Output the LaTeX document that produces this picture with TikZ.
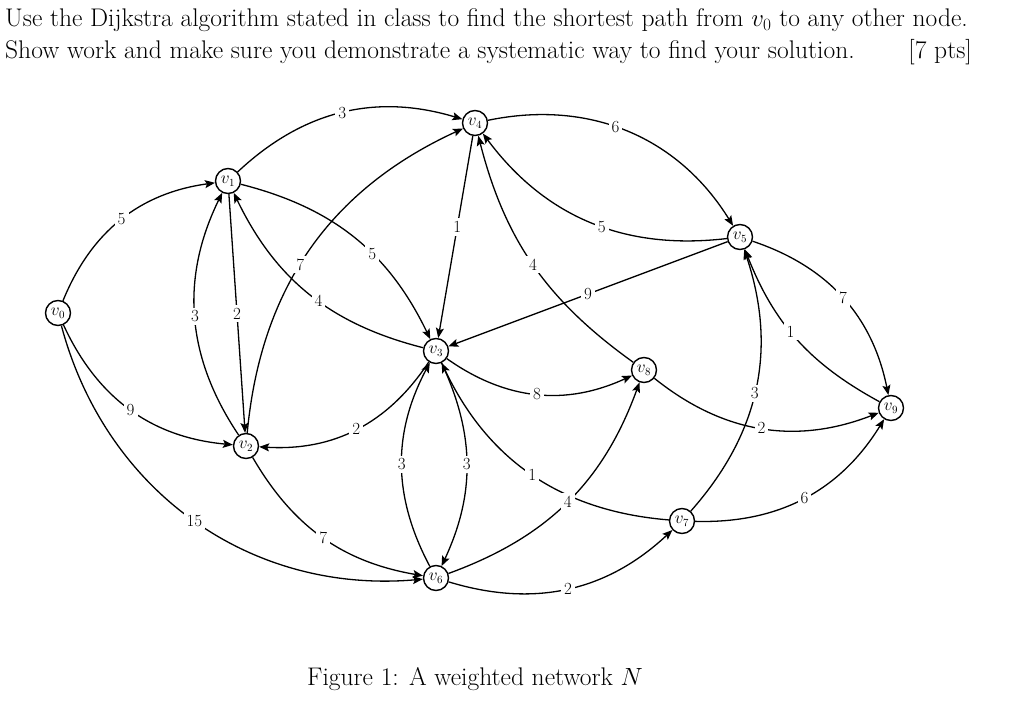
\documentclass[tikz,border=0pt]{standalone}
\usetikzlibrary{arrows.meta}
\begin{document}
\begin{tikzpicture}[x=1pt,y=1pt,
  vtx/.style={circle,draw,line width=1.4pt,inner sep=0pt,minimum size=25pt,font=\fontsize{16}{18}\selectfont},
  ed/.style={-{Stealth[length=10pt,width=8pt,inset=2pt]},line width=1.3pt},
  wt/.style={fill=white,inner sep=3pt,font=\fontsize{17}{19}\selectfont},
  big/.style={font=\fontsize{25.5}{30}\selectfont,inner sep=0pt}]
\useasboundingbox (0,0) rectangle (1024,713);
\node[big,anchor=base west] (t1) at (5,686) {Use the Dijkstra algorithm stated in class to find the shortest path from $v_0$ to any other node.};
\node[big,anchor=base west] (t2) at (5,654) {Show work and make sure you demonstrate a systematic way to find your solution.};
\node[big,anchor=base east] (pts) at (972,654) {[7 pts]};
\node[big,anchor=base] (cap) at (475,28) {Figure 1: A weighted network $N$};
\node[vtx] (v0) at (58,400) {$v_0$};
\node[vtx] (v1) at (228,532) {$v_1$};
\node[vtx] (v2) at (246,267) {$v_2$};
\node[vtx] (v3) at (436,362) {$v_3$};
\node[vtx] (v4) at (475,590) {$v_4$};
\node[vtx] (v5) at (740,476) {$v_5$};
\node[vtx] (v6) at (436,135) {$v_6$};
\node[vtx] (v7) at (682,192) {$v_7$};
\node[vtx] (v8) at (644,343) {$v_8$};
\node[vtx] (v9) at (891,305) {$v_9$};
\draw[ed] (v0) to[bend left=30] node[wt]{5} (v1);
\draw[ed] (v0) to[bend right=30] node[wt]{9} (v2);
\draw[ed] (v0) to[bend right=40] node[wt]{15} (v6);
\draw[ed] (v1) to[bend left=30] node[wt]{3} (v4);
\draw[ed] (v1) to[bend left=25] node[wt,pos=0.6]{5} (v3);
\draw[ed] (v1) to node[wt]{2} (v2);
\draw[ed] (v2) to[bend left=30] node[wt]{3} (v1);
\draw[ed] (v3) to[bend left=25] node[wt,pos=0.45]{4} (v1);
\draw[ed] (v2) to[bend left=30] node[wt,pos=0.45]{7} (v4);
\draw[ed] (v3) to[bend left=30] node[wt]{2} (v2);
\draw[ed] (v4) to node[wt,pos=0.45]{1} (v3);
\draw[ed] (v8) to[bend left=20] node[wt,pos=0.5]{4} (v4);
\draw[ed] (v5) to[bend left=30] node[wt,pos=0.45]{5} (v4);
\draw[ed] (v4) to[bend left=35] node[wt,pos=0.45]{6} (v5);
\draw[ed] (v5) to node[wt,pos=0.5]{9} (v3);
\draw[ed] (v5) to[bend left=30] node[wt]{7} (v9);
\draw[ed] (v9) to[bend left=20] node[wt,pos=0.55]{1} (v5);
\draw[ed] (v7) to[bend right=30] node[wt,pos=0.48]{3} (v5);
\draw[ed] (v3) to[bend right=30] node[wt]{8} (v8);
\draw[ed] (v8) to[bend right=30] node[wt]{2} (v9);
\draw[ed] (v7) to[bend right=30] node[wt]{6} (v9);
\draw[ed] (v7) to[bend left=30] node[wt,pos=0.5]{1} (v3);
\draw[ed] (v6) to[bend right=25] node[wt,pos=0.5]{4} (v8);
\draw[ed] (v6) to[bend right=30] node[wt]{2} (v7);
\draw[ed] (v6) to[bend left=28] node[wt]{3} (v3);
\draw[ed] (v3) to[bend left=25] node[wt]{3} (v6);
\draw[ed] (v2) to[bend right=25] node[wt]{7} (v6);
\end{tikzpicture}
\end{document}
